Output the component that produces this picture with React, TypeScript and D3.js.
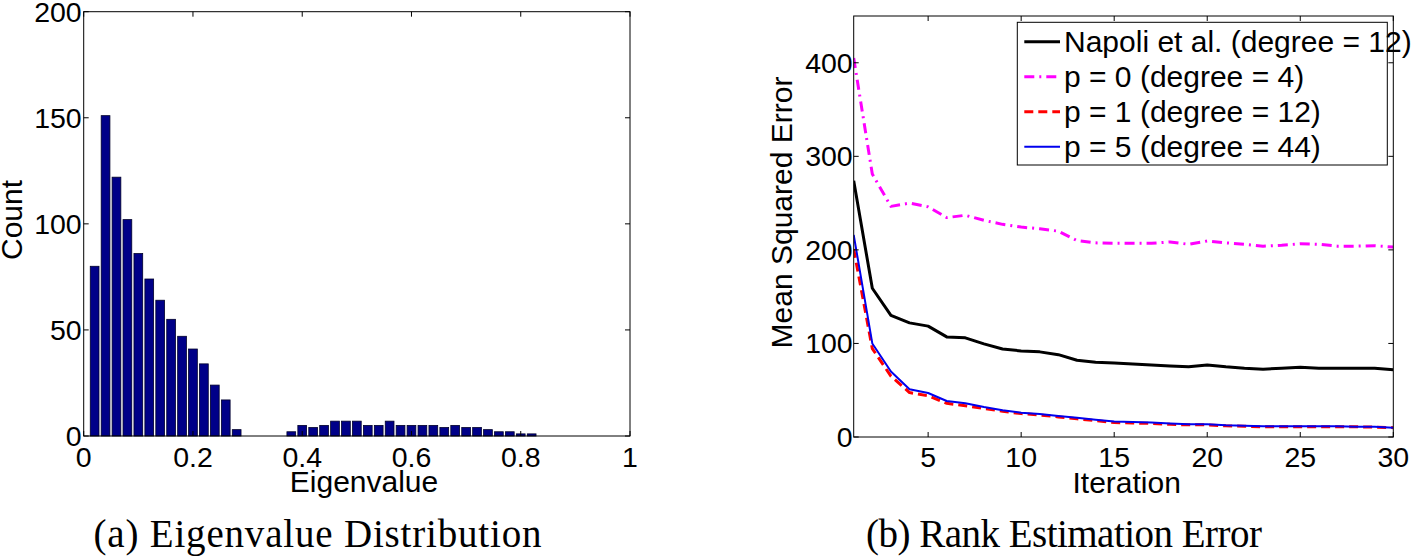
import * as d3 from 'd3'

// (a) histogram of eigenvalues
const binCenters = [
  0.02, 0.04, 0.06, 0.08, 0.1, 0.12, 0.14, 0.16, 0.18, 0.2, 0.22, 0.24, 0.26, 0.28,
  0.3, 0.32, 0.34, 0.36, 0.38, 0.4, 0.42, 0.44, 0.46, 0.48, 0.5, 0.52, 0.54, 0.56,
  0.58, 0.6, 0.62, 0.64, 0.66, 0.68, 0.7, 0.72, 0.74, 0.76, 0.78, 0.8, 0.82,
]
const binCounts = [
  80, 151, 122, 102, 86, 74, 64, 55, 47, 41, 34, 24, 17, 3,
  0, 0, 0, 0, 2, 5, 4, 5, 7, 7, 7, 5, 5, 7,
  5, 5, 5, 5, 4, 5, 4, 4, 3, 2, 2, 1, 1,
]
const histXTicks = [0, 0.2, 0.4, 0.6, 0.8, 1]
const histYTicks = [0, 50, 100, 150, 200]

// (b) rank estimation error per iteration
const iterations = d3.range(1, 31)
const napoli = [
  274, 159, 130, 122, 118.5, 107, 106, 99.5, 94, 92, 91, 88, 82, 80, 79, 78, 77, 76,
  75, 77, 75, 73.5, 72.5, 73.5, 74.5, 73.5, 73.5, 73.5, 73.5, 72,
]
const p0 = [
  405, 281, 246.5, 250, 246, 234.5, 237, 231.6, 227.3, 224.4, 222.5, 220, 210, 207.5,
  207, 207, 207, 208.5, 206, 209.5, 207.5, 206, 204, 205, 206.5, 206, 204, 204, 204.5, 203,
]
const p1 = [
  201, 94.5, 65, 47.5, 44, 36, 33.5, 30.5, 27.5, 25, 23.5, 21.5, 19.5, 17.5, 15.5, 15,
  14.5, 13.5, 13, 13, 12, 11.5, 11, 11, 11, 11, 11, 11, 10.5, 10,
]
const p5 = [
  216, 100, 70, 51, 47, 38.5, 36, 32, 28.5, 26, 24.5, 22.5, 20.5, 18.5, 16.5, 16, 15.5,
  14.5, 13.5, 13.5, 12.5, 12, 11.5, 11.5, 11.5, 11.5, 11.5, 11, 11, 10,
]
const errXTicks = [5, 10, 15, 20, 25, 30]
const errYTicks = [0, 100, 200, 300, 400]

const series = [
  { name: 'Napoli et al. (degree = 12)', values: napoli, color: '#000000', width: 3, dash: '' },
  { name: 'p = 0 (degree = 4)', values: p0, color: '#ff00ff', width: 3, dash: '10 5 2 5' },
  { name: 'p = 1 (degree = 12)', values: p1, color: '#ff0000', width: 3, dash: '9 5' },
  { name: 'p = 5 (degree = 44)', values: p5, color: '#0000ee', width: 2, dash: '' },
]

const sans = 'Liberation Sans, Arial, sans-serif'
const serif = 'Liberation Serif, Times New Roman, serif'
const tickLen = 5

const App = () => {
  const hx = d3.scaleLinear().domain([0, 1]).range([83.7, 630])
  const hy = d3.scaleLinear().domain([0, 200]).range([436, 11.7])
  const ex = d3.scaleLinear().domain([1, 30]).range([853.7, 1393.3])
  const ey = d3.scaleLinear().domain([0, 450]).range([437, 16])
  const binW = 0.016

  const line = d3
    .line<number>()
    .x((_d, i) => ex(iterations[i]))
    .y((d) => ey(d))

  const frame = (
    x: d3.ScaleLinear<number, number>,
    y: d3.ScaleLinear<number, number>,
    xt: number[],
    yt: number[]
  ) => {
    const [x0, x1] = x.range()
    const [y0, y1] = y.range()
    return (
      <g stroke="#000" strokeWidth={1} fill="none">
        <rect x={x0} y={y1} width={x1 - x0} height={y0 - y1} />
        {xt.map((t) => (
          <g key={'x' + t}>
            <line x1={x(t)} x2={x(t)} y1={y0} y2={y0 - tickLen} />
            <line x1={x(t)} x2={x(t)} y1={y1} y2={y1 + tickLen} />
          </g>
        ))}
        {yt.map((t) => (
          <g key={'y' + t}>
            <line x1={x0} x2={x0 + tickLen} y1={y(t)} y2={y(t)} />
            <line x1={x1} x2={x1 - tickLen} y1={y(t)} y2={y(t)} />
          </g>
        ))}
      </g>
    )
  }

  return (
    <svg
      width={1416}
      height={557}
      style={{ position: 'absolute', left: 0, top: 0, background: '#fff' }}
    >
      <rect width={1416} height={557} fill="#fff" />

      {/* (a) histogram */}
      <g>
        {binCounts.map((c, i) =>
          c > 0 ? (
            <rect
              key={i}
              x={hx(binCenters[i] - binW / 2)}
              width={hx(binW) - hx(0)}
              y={hy(c)}
              height={hy(0) - hy(c)}
              fill="#000088"
              stroke="#00002a"
              strokeWidth={0.8}
            />
          ) : null
        )}
        {frame(hx, hy, histXTicks, histYTicks)}
        <g fontFamily={sans} fontSize={28.5} fill="#000">
          {histXTicks.map((t) => (
            <text key={t} x={hx(t)} y={467} textAnchor="middle">
              {String(t)}
            </text>
          ))}
          {histYTicks.map((t) => (
            <text key={t} x={hx(0) - 2} y={hy(t) + 10} textAnchor="end">
              {t}
            </text>
          ))}
        </g>
        <g fontFamily={sans} fontSize={30} fill="#000">
          <text x={364} y={492} textAnchor="middle">
            Eigenvalue
          </text>
          <text transform="translate(21.7,220) rotate(-90)" textAnchor="middle">
            Count
          </text>
        </g>
        <text
          x={317.5}
          y={546.7}
          textAnchor="middle"
          fontFamily={serif}
          fontSize={39}
          textLength={448}
          lengthAdjust="spacing"
        >
          (a) Eigenvalue Distribution
        </text>
      </g>

      {/* (b) error curves */}
      <g>
        <defs>
          <clipPath id="errClip">
            <rect x={853.7} y={16} width={1393.3 - 853.7} height={437 - 16} />
          </clipPath>
        </defs>
        <g clipPath="url(#errClip)" fill="none">
          {series.map((s) => (
            <path
              key={s.name}
              d={line(s.values) ?? ''}
              stroke={s.color}
              strokeWidth={s.width}
              strokeDasharray={s.dash || undefined}
              strokeLinejoin="round"
            />
          ))}
        </g>
        {frame(ex, ey, errXTicks, errYTicks)}
        <g fontFamily={sans} fontSize={28.5} fill="#000">
          {errXTicks.map((t) => (
            <text key={t} x={ex(t)} y={467} textAnchor="middle">
              {t}
            </text>
          ))}
          {errYTicks.map((t) => (
            <text key={t} x={ex(1) - 1} y={ey(t) + 10} textAnchor="end">
              {t}
            </text>
          ))}
        </g>
        <g fontFamily={sans} fontSize={30} fill="#000">
          <text x={1126.7} y={493} textAnchor="middle">
            Iteration
          </text>
          <text transform="translate(792,212.5) rotate(-90)" textAnchor="middle">
            Mean Squared Error
          </text>
        </g>

        {/* legend */}
        <rect
          x={1017.3}
          y={22.3}
          width={1387.3 - 1017.3}
          height={165 - 22.3}
          fill="#fff"
          stroke="#000"
          strokeWidth={1}
        />
        {series.map((s, i) => {
          const cy = 41.7 + i * 35
          return (
            <g key={s.name}>
              <line
                x1={1024.3}
                x2={1060}
                y1={cy}
                y2={cy}
                stroke={s.color}
                strokeWidth={s.width}
                strokeDasharray={s.dash || undefined}
              />
              <text x={1064} y={cy + 10.5} fontFamily={sans} fontSize={30} fill="#000">
                {s.name}
              </text>
            </g>
          )
        })}
        <text
          x={1064}
          y={546.7}
          textAnchor="middle"
          fontFamily={serif}
          fontSize={39}
          textLength={396}
          lengthAdjust="spacing"
        >
          (b) Rank Estimation Error
        </text>
      </g>
    </svg>
  )
}

export default App
